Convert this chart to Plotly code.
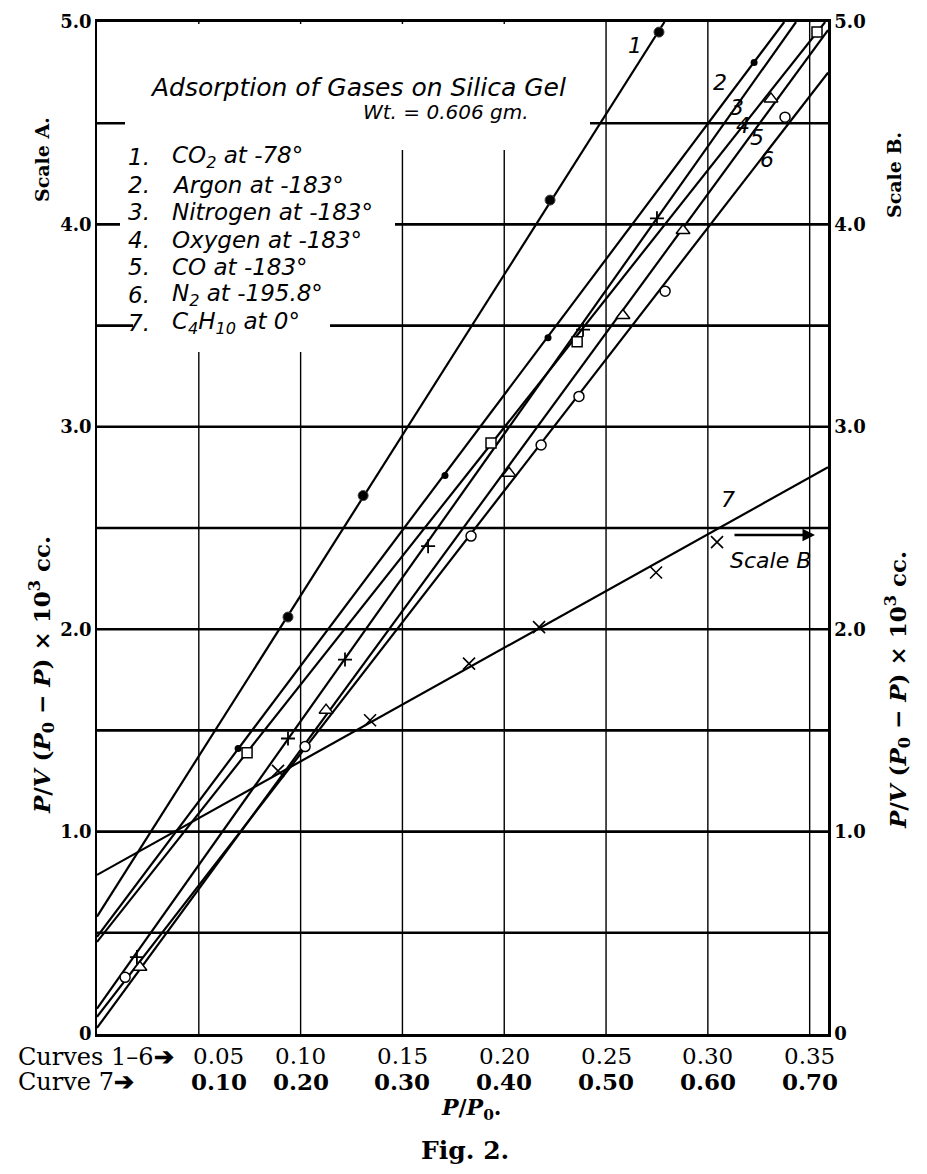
import plotly.graph_objects as go

# ---------------- data ----------------
# Scale A abscissa (P/P0) for curves 1-6, Scale B abscissa for curve 7
c1_x = [0.0938, 0.1307, 0.2225, 0.2760]
c1_y = [2.06, 2.66, 4.12, 4.95]
c2_x = [0.0693, 0.1709, 0.2215, 0.3227]
c2_y = [1.41, 2.76, 3.44, 4.80]
c3_x = [0.0196, 0.0938, 0.1218, 0.1626, 0.2387, 0.2750]
c3_y = [0.38, 1.46, 1.85, 2.41, 3.48, 4.03]
c4_x = [0.0737, 0.1935, 0.2358, 0.3536]
c4_y = [1.39, 2.92, 3.42, 4.95]
c5_x = [0.0211, 0.1125, 0.2024, 0.2583, 0.2878, 0.3310]
c5_y = [0.33, 1.60, 2.77, 3.55, 3.97, 4.62]
c6_x = [0.0138, 0.1022, 0.1837, 0.2181, 0.2367, 0.2790, 0.3379]
c6_y = [0.28, 1.42, 2.46, 2.91, 3.15, 3.67, 4.53]
c7_x = [0.1778, 0.2682, 0.3654, 0.4342, 0.5491, 0.6090]
c7_y = [1.30, 1.55, 1.83, 2.01, 2.28, 2.43]

# fitted straight lines drawn on the figure (end points)
fit1_x = [0.0, 0.2787]; fit1_y = [0.58, 5.0]
fit2_x = [0.0, 0.3375]; fit2_y = [0.48, 5.0]
fit3_x = [0.0, 0.3433]; fit3_y = [0.125, 5.0]
fit4_x = [0.0, 0.3576]; fit4_y = [0.455, 5.0]
fit5_x = [0.0, 0.359];  fit5_y = [0.03, 4.96]
fit6_x = [0.0, 0.359];  fit6_y = [0.085, 4.75]
fit7_x = [0.0, 0.718];  fit7_y = [0.786, 2.80]

legend_names = ["CO<sub>2</sub> at -78°", "Argon at -183°", "Nitrogen at -183°",
                "Oxygen at -183°", "CO at -183°", "N<sub>2</sub> at -195.8°",
                "C<sub>4</sub>H<sub>10</sub> at 0°"]

xA_ticks = [0.05, 0.10, 0.15, 0.20, 0.25, 0.30, 0.35]
xA_text = ["0.05", "0.10", "0.15", "0.20", "0.25", "0.30", "0.35"]
xB_ticks = [0.10, 0.20, 0.30, 0.40, 0.50, 0.60, 0.70]
xB_text = ["0.10", "0.20", "0.30", "0.40", "0.50", "0.60", "0.70"]
y_ticks = [0, 1, 2, 3, 4, 5]
y_text = ["0", "1.0", "2.0", "3.0", "4.0", "5.0"]
y_grid = [0.5, 1, 1.5, 2, 2.5, 3, 3.5, 4, 4.5]

# curve label positions (Scale A coordinates)
lab_x = [0.264, 0.306, 0.3143, 0.3173, 0.3242, 0.3291]
lab_y = [4.886, 4.70, 4.58, 4.49, 4.43, 4.32]

# ---------------- figure ----------------
W, H = 927, 1174
L, R, T, B = 97, 99, 22, 140
PW, PH = W - L - R, H - T - B

def px(xpx):
    return (xpx - L) / PW

def py(ypx):
    return (H - B - ypx) / PH

HAND = "DejaVu Sans"
SERIF = "DejaVu Serif"

fig = go.Figure()

line_style = dict(color="black", width=2.2)
fits = [(fit1_x, fit1_y), (fit2_x, fit2_y), (fit3_x, fit3_y), (fit4_x, fit4_y),
        (fit5_x, fit5_y), (fit6_x, fit6_y)]
for fx, fy in fits:
    fig.add_trace(go.Scatter(x=fx, y=fy, mode="lines", line=line_style,
                             showlegend=False, hoverinfo="skip"))
fig.add_trace(go.Scatter(x=fit7_x, y=fit7_y, mode="lines", line=line_style,
                         xaxis="x2", yaxis="y2", showlegend=False, hoverinfo="skip"))

mk = [
    (c1_x, c1_y, dict(symbol="circle", size=10, color="black", line=dict(color="#444", width=1))),
    (c2_x, c2_y, dict(symbol="circle", size=7, color="black")),
    (c3_x, c3_y, dict(symbol="cross-thin", size=10, line=dict(color="black", width=1.8))),
    (c4_x, c4_y, dict(symbol="square", size=10, color="white", line=dict(color="black", width=1.5))),
    (c5_x, c5_y, dict(symbol="triangle-up", size=12, color="white", line=dict(color="black", width=1.5))),
    (c6_x, c6_y, dict(symbol="circle", size=10, color="white", line=dict(color="black", width=1.5))),
]
for xs, ys, m in mk:
    fig.add_trace(go.Scatter(x=xs, y=ys, mode="markers", marker=m, showlegend=False))
fig.add_trace(go.Scatter(x=c7_x, y=c7_y, mode="markers", xaxis="x2", yaxis="y2",
                         marker=dict(symbol="x-thin", size=12, line=dict(color="black", width=1.6)),
                         showlegend=False))

# grid lines (drawn as shapes so that the text block can interrupt them)
for v in y_grid:
    fig.add_shape(type="line", xref="paper", yref="y", x0=0, x1=1, y0=v, y1=v,
                  line=dict(color="black", width=2.6), layer="below")
for v in xA_ticks:
    fig.add_shape(type="line", xref="x", yref="paper", x0=v, x1=v, y0=0, y1=1,
                  line=dict(color="black", width=1.4), layer="below")
# white patches behind the title / legend text
for x0, x1, y0, y1 in [(125, 590, 24, 150), (120, 395, 150, 300), (133, 330, 300, 352)]:
    fig.add_shape(type="rect", xref="paper", yref="paper", x0=px(x0), x1=px(x1),
                  y0=py(y1), y1=py(y0), fillcolor="white", line=dict(width=0), layer="below")

ann = []

def note(xp, yp, text, font, **kw):
    d = dict(x=xp, y=yp, xref="paper", yref="paper", showarrow=False, text=text,
             font=font, xanchor="center", yanchor="middle")
    d.update(kw)
    ann.append(d)

def hand(size):
    return dict(family=HAND, size=size, color="black")

def serif(size):
    return dict(family=SERIF, size=size, color="black")

# title
note(px(358), py(88), "<i>Adsorption of Gases on Silica Gel</i>", hand(25))
note(px(446), py(112), "<i>Wt. = 0.606 gm.</i>", hand(20))
# legend text
for i, name in enumerate(legend_names):
    yy = py(157 + 27.6 * i)
    note(px(152), yy, f"<i>{i + 1}.</i>", hand(23), xanchor="right")
    note(px(170), yy, f"<i>{name}</i>", hand(23), xanchor="left")
# curve numbers
for i, (lx, ly) in enumerate(zip(lab_x, lab_y)):
    ann.append(dict(x=lx, y=ly, xref="x", yref="y", showarrow=False, text=f"<i>{i + 1}</i>",
                    xanchor="center", yanchor="middle", font=hand(22)))
note(px(728), py(499), "<i>7</i>", hand(22))
# Scale B arrow
ann.append(dict(x=px(815), y=py(535), xref="paper", yref="paper", showarrow=True,
                ax=-82, ay=0, text="", arrowhead=2, arrowsize=1, arrowwidth=2.5,
                arrowcolor="black"))
note(px(770), py(561), "<i>Scale B</i>", hand(22))

# bottom tick label rows
for v, t in zip(xA_ticks, xA_text):
    ann.append(dict(x=v, y=0, xref="x", yref="paper", xanchor="center", yanchor="middle",
                    yshift=-22, showarrow=False, text=t, xshift=20 if v == 0.05 else 0,
                    font=serif(23)))
for v, t in zip(xB_ticks, xB_text):
    ann.append(dict(x=v, y=0, xref="x2", yref="paper", xanchor="center", yanchor="middle",
                    yshift=-47, showarrow=False, text=f"<b>{t}</b>",
                    xshift=20 if v == 0.10 else 0, font=serif(23)))
note(px(16), 0, "Curves 1–6<b>➔</b>", serif(24), xanchor="left", yshift=-22)
note(px(16), 0, "Curve 7<b>➔</b>", serif(24), xanchor="left", yshift=-47)
note(px(472), 0, "<b><i>P</i>/<i>P</i><sub>0</sub>.</b>", serif(22), yshift=-75)
note(px(465), 0, "<b>Fig. 2.</b>", serif(25), yshift=-116)

# side titles
ylab = "<b><i>P</i>/<i>V</i> (<i>P</i><sub>0</sub> − <i>P</i>) × 10<sup>3</sup> cc.</b>"
note(px(42), py(160), "<b>Scale A.</b>", serif(19), textangle=-90)
note(px(42), py(675), ylab, serif(23), textangle=-90)
note(px(894), py(175), "<b>Scale B.</b>", serif(19), textangle=-90)
note(px(897), py(690), ylab, serif(23), textangle=-90)

tickfont = dict(family=SERIF, size=18, color="black")
fig.update_layout(
    template="none",
    width=W, height=H, margin=dict(l=L, r=R, t=T, b=B, autoexpand=False),
    paper_bgcolor="white", plot_bgcolor="white", showlegend=False,
    annotations=ann,
    xaxis=dict(range=[0, 0.359], showticklabels=False, ticks="", showgrid=False,
               zeroline=False, automargin=False,
               showline=True, linecolor="black", linewidth=3, mirror=True),
    xaxis2=dict(range=[0, 0.718], overlaying="x", visible=False, showgrid=False,
                automargin=False),
    yaxis=dict(range=[0, 5], tickvals=y_ticks, ticktext=[f"<b>{t}</b>" for t in y_text],
               tickfont=tickfont, ticks="", showgrid=False,
               zeroline=False, showline=True, linecolor="black", linewidth=1.5, automargin=False),
    yaxis2=dict(range=[0, 5], overlaying="y", side="right", tickvals=y_ticks,
                ticktext=[f"<b>{t}</b>" for t in y_text], tickfont=tickfont, ticks="",
                showgrid=False, zeroline=False, showline=True, linecolor="black", linewidth=2.5,
                automargin=False),
)

fig.write_html("out.html")
